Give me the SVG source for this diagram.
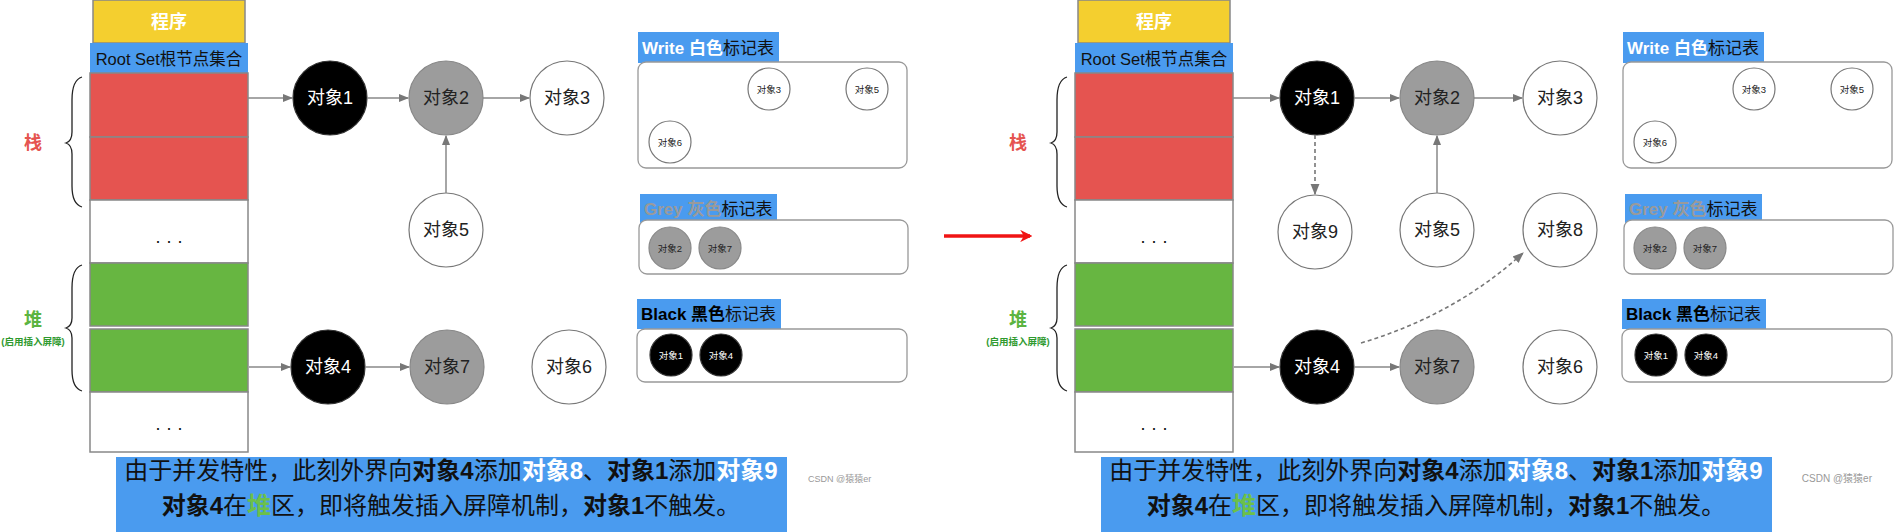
<svg xmlns="http://www.w3.org/2000/svg" width="1898" height="532" viewBox="0 0 1898 532">
<style>
text{font-family:"Liberation Sans","Noto Sans CJK SC",sans-serif}
.n{font-size:18px;text-anchor:middle;dominant-baseline:central}
.r{font-size:16.5px;text-anchor:middle;dominant-baseline:central}
.s{font-size:9.5px;text-anchor:middle;dominant-baseline:central}
.w{fill:#fff;stroke:#777;stroke-width:1.2}
.g{fill:#9c9c9c;stroke:#888;stroke-width:1.2}
.b{fill:#000;stroke:#333;stroke-width:1.2}
.e{stroke:#888;stroke-width:1.5;fill:none;marker-end:url(#ah)}
.d{stroke:#777;stroke-width:1.6;fill:none;stroke-dasharray:4 3;marker-end:url(#ah)}
.tb{fill:#fff;stroke:#999;stroke-width:1.3}
.hd{fill:#4a9bef}
.h{font-size:17px;dominant-baseline:central}
.cell{stroke:#888;stroke-width:1.5}
.br{fill:none;stroke:#222;stroke-width:1.3}
.bt{font-size:24px;text-anchor:middle}
</style>
<defs>
<marker id="ah" viewBox="0 0 10 10" refX="9" refY="5" markerWidth="7" markerHeight="7" orient="auto"><path d="M0,1 L10,5 L0,9 z" fill="#777"/></marker>
<marker id="rh" viewBox="0 0 10 10" refX="8" refY="5" markerWidth="3.5" markerHeight="3.5" orient="auto"><path d="M0,0 L10,5 L0,10 L3,5 z" fill="#f01414"/></marker>
</defs>

<!-- LEFT PANEL -->
<g id="left">
<g id="L-program"><rect x="93" y="0" width="152" height="43" fill="#f4cf2f" class="cell"/><text x="169" y="22" class="n" fill="#fff" font-weight="bold">程序</text></g>
<g id="L-rootset"><rect x="90" y="43" width="158" height="30" fill="#4a9bef"/><text x="169" y="59" class="r" fill="#111">Root Set根节点集合</text></g>
<g id="L-stack">
<rect x="90" y="73" width="158" height="64" fill="#e55450" class="cell"/>
<rect x="90" y="137" width="158" height="63" fill="#e55450" class="cell"/>
<rect x="90" y="200" width="158" height="63" fill="#fff" class="cell"/>
<text x="169" y="241" class="n" fill="#111">· · ·</text>
<path class="br" d="M82,77 Q72,80 72,100 L72,132 Q72,141 66,143 Q72,145 72,154 L72,186 Q72,204 82,207"/>
<text x="33" y="143" class="n" fill="#e55450" font-weight="bold">栈</text>
</g>
<g id="L-heap">
<rect x="90" y="263" width="158" height="63" fill="#67b641" class="cell"/>
<rect x="90" y="329" width="158" height="63" fill="#67b641" class="cell"/>
<rect x="90" y="392" width="158" height="60" fill="#fff" class="cell"/>
<text x="169" y="428" class="n" fill="#111">· · ·</text>
<path class="br" d="M82,265 Q72,268 72,288 L72,318 Q72,326 66,328 Q72,330 72,338 L72,370 Q72,388 82,391"/>
<text x="33" y="320" class="n" fill="#5cb441" font-weight="bold">堆</text>
<text x="33" y="341" class="s" fill="#2f9a2f" font-weight="bold">(启用插入屏障)</text>
</g>
<g id="L-o1"><circle cx="330" cy="98" r="37" class="b"/><text x="330" y="98" class="n" fill="#fff">对象1</text></g>
<g id="L-o2"><circle cx="446" cy="98" r="37" class="g"/><text x="446" y="98" class="n" fill="#222">对象2</text></g>
<g id="L-o3"><circle cx="567" cy="98" r="37" class="w"/><text x="567" y="98" class="n" fill="#222">对象3</text></g>
<g id="L-o5"><circle cx="446" cy="230" r="37" class="w"/><text x="446" y="230" class="n" fill="#222">对象5</text></g>
<g id="L-o4"><circle cx="328" cy="367" r="37" class="b"/><text x="328" y="367" class="n" fill="#fff">对象4</text></g>
<g id="L-o7"><circle cx="447" cy="367" r="37" class="g"/><text x="447" y="367" class="n" fill="#222">对象7</text></g>
<g id="L-o6"><circle cx="569" cy="367" r="37" class="w"/><text x="569" y="367" class="n" fill="#222">对象6</text></g>
<g id="L-white">
<rect x="638" y="32" width="141" height="31" class="hd"/>
<text x="642" y="48" class="h"><tspan fill="#fff" font-weight="bold">Write 白色</tspan><tspan fill="#111">标记表</tspan></text>
<rect x="638" y="62" width="269" height="106" rx="8" class="tb"/>
<circle cx="769" cy="89" r="21" class="w"/><text x="769" y="89" class="s" fill="#222">对象3</text>
<circle cx="867" cy="89" r="21" class="w"/><text x="867" y="89" class="s" fill="#222">对象5</text>
<circle cx="670" cy="142" r="21" class="w"/><text x="670" y="142" class="s" fill="#222">对象6</text>
</g>
<g id="L-grey">
<rect x="640" y="194" width="137" height="30" class="hd"/>
<text x="644" y="209" class="h"><tspan fill="#9a9a9a" font-weight="bold">Grey 灰色</tspan><tspan fill="#111">标记表</tspan></text>
<rect x="639" y="220" width="269" height="54" rx="8" class="tb"/>
<circle cx="670" cy="248" r="21" class="g"/><text x="670" y="248" class="s" fill="#222">对象2</text>
<circle cx="720" cy="248" r="21" class="g"/><text x="720" y="248" class="s" fill="#222">对象7</text>
</g>
<g id="L-black">
<rect x="637" y="299" width="144" height="30" class="hd"/>
<text x="641" y="314" class="h"><tspan fill="#000" font-weight="bold">Black 黑色</tspan><tspan fill="#111">标记表</tspan></text>
<rect x="637" y="329" width="270" height="53" rx="8" class="tb"/>
<circle cx="671" cy="355" r="21" class="b"/><text x="671" y="355" class="s" fill="#fff">对象1</text>
<circle cx="721" cy="355" r="21" class="b"/><text x="721" y="355" class="s" fill="#fff">对象4</text>
</g>
<g id="L-note">
<rect x="116" y="457" width="671" height="75" fill="#4a9bef"/>
<text x="451" y="479" class="bt" fill="#111">由于并发特性，此刻外界向<tspan font-weight="bold">对象4</tspan>添加<tspan fill="#fff" font-weight="bold">对象8</tspan>、<tspan font-weight="bold">对象1</tspan>添加<tspan fill="#fff" font-weight="bold">对象9</tspan></text>
<text x="451" y="514" class="bt" fill="#111"><tspan font-weight="bold">对象4</tspan>在<tspan fill="#6cc04a" font-weight="bold">堆</tspan>区，即将触发插入屏障机制，<tspan font-weight="bold">对象1</tspan>不触发。</text>
</g>
<g id="L-edges">
<line x1="248" y1="98" x2="292" y2="98" class="e"/>
<line x1="367" y1="98" x2="408" y2="98" class="e"/>
<line x1="483" y1="98" x2="529" y2="98" class="e"/>
<line x1="446" y1="193" x2="446" y2="136" class="e"/>
<line x1="249" y1="367" x2="290" y2="367" class="e"/>
<line x1="365" y1="367" x2="409" y2="367" class="e"/>
</g>
<text x="808" y="482" font-size="9" fill="#999">CSDN @猿猿er</text>
</g>

<!-- ARROW BETWEEN -->
<g id="transition"><line x1="944" y1="236" x2="1030" y2="236" stroke="#f01414" stroke-width="3.5" marker-end="url(#rh)"/></g>

<!-- RIGHT PANEL -->
<g id="right" transform="translate(985,0)">
<g id="R-program"><rect x="93" y="0" width="152" height="43" fill="#f4cf2f" class="cell"/><text x="169" y="22" class="n" fill="#fff" font-weight="bold">程序</text></g>
<g id="R-rootset"><rect x="90" y="43" width="158" height="30" fill="#4a9bef"/><text x="169" y="59" class="r" fill="#111">Root Set根节点集合</text></g>
<g id="R-stack">
<rect x="90" y="73" width="158" height="64" fill="#e55450" class="cell"/>
<rect x="90" y="137" width="158" height="63" fill="#e55450" class="cell"/>
<rect x="90" y="200" width="158" height="63" fill="#fff" class="cell"/>
<text x="169" y="241" class="n" fill="#111">· · ·</text>
<path class="br" d="M82,77 Q72,80 72,100 L72,132 Q72,141 66,143 Q72,145 72,154 L72,186 Q72,204 82,207"/>
<text x="33" y="143" class="n" fill="#e55450" font-weight="bold">栈</text>
</g>
<g id="R-heap">
<rect x="90" y="263" width="158" height="63" fill="#67b641" class="cell"/>
<rect x="90" y="329" width="158" height="63" fill="#67b641" class="cell"/>
<rect x="90" y="392" width="158" height="60" fill="#fff" class="cell"/>
<text x="169" y="428" class="n" fill="#111">· · ·</text>
<path class="br" d="M82,265 Q72,268 72,288 L72,318 Q72,326 66,328 Q72,330 72,338 L72,370 Q72,388 82,391"/>
<text x="33" y="320" class="n" fill="#5cb441" font-weight="bold">堆</text>
<text x="33" y="341" class="s" fill="#2f9a2f" font-weight="bold">(启用插入屏障)</text>
</g>
<g id="R-o1"><circle cx="332" cy="98" r="37" class="b"/><text x="332" y="98" class="n" fill="#fff">对象1</text></g>
<g id="R-o2"><circle cx="452" cy="98" r="37" class="g"/><text x="452" y="98" class="n" fill="#222">对象2</text></g>
<g id="R-o3"><circle cx="575" cy="98" r="37" class="w"/><text x="575" y="98" class="n" fill="#222">对象3</text></g>
<g id="R-o9"><circle cx="330" cy="232" r="37" class="w"/><text x="330" y="232" class="n" fill="#222">对象9</text></g>
<g id="R-o5"><circle cx="452" cy="230" r="37" class="w"/><text x="452" y="230" class="n" fill="#222">对象5</text></g>
<g id="R-o8"><circle cx="575" cy="230" r="37" class="w"/><text x="575" y="230" class="n" fill="#222">对象8</text></g>
<g id="R-o4"><circle cx="332" cy="367" r="37" class="b"/><text x="332" y="367" class="n" fill="#fff">对象4</text></g>
<g id="R-o7"><circle cx="452" cy="367" r="37" class="g"/><text x="452" y="367" class="n" fill="#222">对象7</text></g>
<g id="R-o6"><circle cx="575" cy="367" r="37" class="w"/><text x="575" y="367" class="n" fill="#222">对象6</text></g>
<g id="R-white">
<rect x="638" y="32" width="141" height="31" class="hd"/>
<text x="642" y="48" class="h"><tspan fill="#fff" font-weight="bold">Write 白色</tspan><tspan fill="#111">标记表</tspan></text>
<rect x="638" y="62" width="269" height="106" rx="8" class="tb"/>
<circle cx="769" cy="89" r="21" class="w"/><text x="769" y="89" class="s" fill="#222">对象3</text>
<circle cx="867" cy="89" r="21" class="w"/><text x="867" y="89" class="s" fill="#222">对象5</text>
<circle cx="670" cy="142" r="21" class="w"/><text x="670" y="142" class="s" fill="#222">对象6</text>
</g>
<g id="R-grey">
<rect x="640" y="194" width="137" height="30" class="hd"/>
<text x="644" y="209" class="h"><tspan fill="#9a9a9a" font-weight="bold">Grey 灰色</tspan><tspan fill="#111">标记表</tspan></text>
<rect x="639" y="220" width="269" height="54" rx="8" class="tb"/>
<circle cx="670" cy="248" r="21" class="g"/><text x="670" y="248" class="s" fill="#222">对象2</text>
<circle cx="720" cy="248" r="21" class="g"/><text x="720" y="248" class="s" fill="#222">对象7</text>
</g>
<g id="R-black">
<rect x="637" y="299" width="144" height="30" class="hd"/>
<text x="641" y="314" class="h"><tspan fill="#000" font-weight="bold">Black 黑色</tspan><tspan fill="#111">标记表</tspan></text>
<rect x="637" y="329" width="270" height="53" rx="8" class="tb"/>
<circle cx="671" cy="355" r="21" class="b"/><text x="671" y="355" class="s" fill="#fff">对象1</text>
<circle cx="721" cy="355" r="21" class="b"/><text x="721" y="355" class="s" fill="#fff">对象4</text>
</g>
<g id="R-note">
<rect x="116" y="457" width="671" height="75" fill="#4a9bef"/>
<text x="451" y="479" class="bt" fill="#111">由于并发特性，此刻外界向<tspan font-weight="bold">对象4</tspan>添加<tspan fill="#fff" font-weight="bold">对象8</tspan>、<tspan font-weight="bold">对象1</tspan>添加<tspan fill="#fff" font-weight="bold">对象9</tspan></text>
<text x="451" y="514" class="bt" fill="#111"><tspan font-weight="bold">对象4</tspan>在<tspan fill="#6cc04a" font-weight="bold">堆</tspan>区，即将触发插入屏障机制，<tspan font-weight="bold">对象1</tspan>不触发。</text>
</g>
<g id="R-edges">
<line x1="248" y1="98" x2="294" y2="98" class="e"/>
<line x1="369" y1="98" x2="414" y2="98" class="e"/>
<line x1="489" y1="98" x2="537" y2="98" class="e"/>
<line x1="452" y1="193" x2="452" y2="136" class="e"/>
<line x1="249" y1="367" x2="294" y2="367" class="e"/>
<line x1="369" y1="367" x2="414" y2="367" class="e"/>
<line x1="330" y1="135" x2="330" y2="194" class="d"/>
<path d="M376,343 Q470,315 538,253" class="d"/>
</g>
<text x="887" y="482" font-size="10" fill="#999" text-anchor="end">CSDN @猿猿er</text>
</g>
</svg>
